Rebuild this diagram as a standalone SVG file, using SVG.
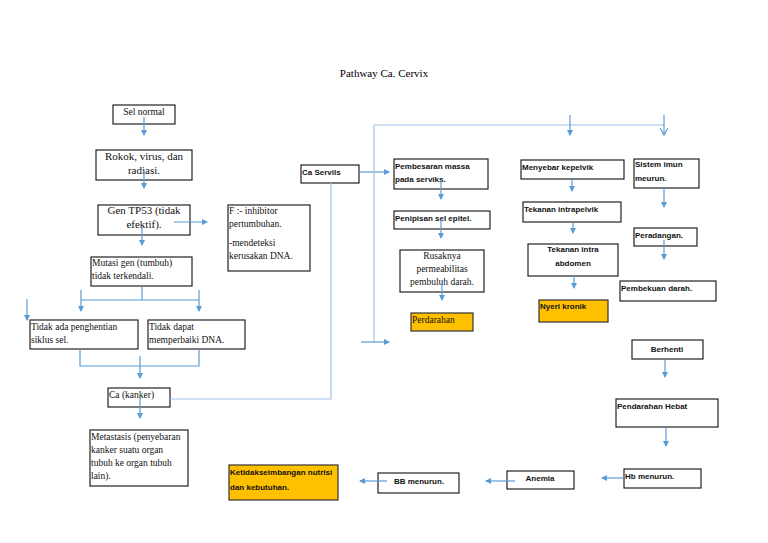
<svg xmlns="http://www.w3.org/2000/svg" width="768" height="543" viewBox="0 0 768 543">
<style>
.b{fill:#fff;stroke:#222;stroke-width:1.2}
.o{fill:#ffc000;stroke:#333;stroke-width:1.2}
.c{stroke:#5b9bd5;stroke-width:1.2;fill:none}
.lc{stroke:#9dc3e6;stroke-width:1.2;fill:none}
.s{font-family:"Liberation Serif",serif;font-size:9.5px;fill:#111}
.sb{font-family:"Liberation Serif",serif;font-size:11px;fill:#111}
.n{font-family:"Liberation Sans",sans-serif;font-size:8px;font-weight:bold;fill:#111}
</style>
<defs>
<marker id="a" markerWidth="6" markerHeight="6" refX="5" refY="3" orient="auto" markerUnits="userSpaceOnUse"><path d="M0,0 L6,3 L0,6z" fill="#5b9bd5"/></marker>
<marker id="v" markerWidth="8" markerHeight="8" refX="7" refY="4" orient="auto" markerUnits="userSpaceOnUse"><path d="M0,0 L7,4 L0,8" fill="none" stroke="#5b9bd5" stroke-width="1.2"/></marker>
</defs>
<rect width="768" height="543" fill="#fff"/>
<text x="384" y="77" text-anchor="middle" style="font-family:'Liberation Serif',serif;font-size:11px">Pathway Ca. Cervix</text>
<g id="n1"><rect class="b" x="113" y="105" width="62" height="19"/><text class="s" x="144" y="115" text-anchor="middle">Sel normal</text></g>
<g id="n2"><rect class="b" x="96" y="150" width="96" height="30"/><text class="sb" x="144" y="160" text-anchor="middle">Rokok, virus, dan</text><text class="sb" x="144" y="174" text-anchor="middle">radiasi.</text></g>
<g id="n3"><rect class="b" x="98" y="205" width="92" height="30"/><text class="sb" x="144" y="214" text-anchor="middle">Gen TP53 (tidak</text><text class="sb" x="144" y="228" text-anchor="middle">efektif).</text></g>
<g id="n4"><rect class="b" x="228" y="205" width="82" height="66"/><text class="s" x="229" y="214">F :- inhibitor</text><text class="s" x="229" y="227">pertumbuhan.</text><text class="s" x="229" y="246">-mendeteksi</text><text class="s" x="229" y="259">kerusakan DNA.</text></g>
<g id="n5"><rect class="b" x="91" y="257" width="101" height="29"/><text class="s" x="92" y="266">Mutasi gen (tumbuh)</text><text class="s" x="92" y="279">tidak terkendali.</text></g>
<g id="n6"><rect class="b" x="30" y="320" width="108" height="29"/><text class="s" x="31" y="330">Tidak ada penghentian</text><text class="s" x="31" y="343">siklus sel.</text></g>
<g id="n7"><rect class="b" x="148" y="320" width="97" height="29"/><text class="s" x="149" y="330">Tidak dapat</text><text class="s" x="149" y="343">memperbaiki DNA.</text></g>
<g id="n8"><rect class="b" x="108" y="388" width="62" height="19"/><text class="s" x="109" y="398">Ca (kanker)</text></g>
<g id="n9"><rect class="b" x="90" y="430" width="98" height="56"/><text class="s" x="91" y="440">Metastasis (penyebaran</text><text class="s" x="91" y="453">kanker suatu organ</text><text class="s" x="91" y="466">tubuh ke organ tubuh</text><text class="s" x="91" y="479">lain).</text></g>
<g id="n10"><rect class="b" x="301" y="165" width="58" height="18"/><text class="n" x="302" y="175">Ca Servils</text></g>
<g id="n11"><rect class="b" x="394" y="159" width="94" height="30"/><text class="n" x="395" y="169">Pembesaran massa</text><text class="n" x="395" y="182">pada serviks.</text></g>
<g id="n12"><rect class="b" x="394" y="211" width="96" height="18"/><text class="n" x="395" y="221">Penipisan sel epitel.</text></g>
<g id="n13"><rect class="b" x="400" y="250" width="84" height="42"/><text class="s" x="442" y="259" text-anchor="middle">Rusaknya</text><text class="s" x="442" y="272" text-anchor="middle">permeabilitas</text><text class="s" x="442" y="285" text-anchor="middle">pembuluh darah.</text></g>
<g id="n14"><rect class="o" x="411" y="313" width="62" height="18"/><text class="s" x="412" y="323">Perdarahan</text></g>
<g id="n15"><rect class="b" x="521" y="160" width="103" height="19"/><text class="n" x="522" y="170">Menyebar kepelvik</text></g>
<g id="n16"><rect class="b" x="523" y="202" width="98" height="20"/><text class="n" x="524" y="212">Tekanan intrapelvik</text></g>
<g id="n17"><rect class="b" x="528" y="244" width="90" height="32"/><text class="n" x="573" y="252" text-anchor="middle">Tekanan intra</text><text class="n" x="573" y="266" text-anchor="middle">abdomen</text></g>
<g id="n18"><rect class="o" x="539" y="300" width="69" height="22"/><text class="n" x="540" y="309">Nyeri kronik</text></g>
<g id="n19"><rect class="b" x="634" y="159" width="65" height="29"/><text class="n" x="635" y="167">Sistem imun</text><text class="n" x="635" y="181">meurun.</text></g>
<g id="n20"><rect class="b" x="634" y="228" width="63" height="18"/><text class="n" x="635" y="238">Peradangan.</text></g>
<g id="n21"><rect class="b" x="620" y="281" width="96" height="20"/><text class="n" x="621" y="291">Pembekuan darah.</text></g>
<g id="n22"><rect class="b" x="632" y="340" width="71" height="19"/><text class="n" x="667" y="352" text-anchor="middle">Berhenti</text></g>
<g id="n23"><rect class="b" x="616" y="399" width="102" height="28"/><text class="n" x="617" y="409">Pendarahan Hebat</text></g>
<g id="n24"><rect class="b" x="624" y="469" width="77" height="19"/><text class="n" x="625" y="479">Hb menurun.</text></g>
<g id="n25"><rect class="b" x="507" y="471" width="67" height="18"/><text class="n" x="540" y="481" text-anchor="middle">Anemia</text></g>
<g id="n26"><rect class="b" x="378" y="473" width="81" height="20"/><text class="n" x="419" y="484" text-anchor="middle">BB menurun.</text></g>
<g id="n27"><rect class="o" x="229" y="465" width="109" height="35"/><text class="n" x="230" y="475">Ketidakseimbangan nutrisi</text><text class="n" x="230" y="490">dan kebutuhan.</text></g>
<g id="connectors">
<path class="c" d="M144 117V135" marker-end="url(#a)"/>
<path class="c" d="M144 170V188" marker-end="url(#a)"/>
<path class="c" d="M142 227V245" marker-end="url(#a)"/>
<path class="c" d="M174 222H207" marker-end="url(#a)"/>
<path class="c" d="M142 286V300M81 300H199"/>
<path class="c" d="M81 290V311" marker-end="url(#a)"/>
<path class="c" d="M199 290V311" marker-end="url(#a)"/>
<path class="c" d="M27 299V320" marker-end="url(#a)"/>
<path class="c" d="M80 349V366H199V349"/>
<path class="c" d="M140 356V378" marker-end="url(#a)"/>
<path class="c" d="M140 397V418" marker-end="url(#a)"/>
<path class="lc" d="M170 399H331V183"/>
<path class="c" d="M359 172H389" marker-end="url(#a)"/>
<path class="lc" d="M374 342V125H664"/>
<path class="c" d="M361 342H389" marker-end="url(#a)"/>
<path class="c" d="M570 115V135" marker-end="url(#a)"/>
<path class="c" d="M664 115V135" marker-end="url(#v)"/>
<path class="c" d="M441 180V199" marker-end="url(#a)"/>
<path class="c" d="M441 220V238" marker-end="url(#a)"/>
<path class="c" d="M442 282V300" marker-end="url(#a)"/>
<path class="c" d="M572 179V191" marker-end="url(#a)"/>
<path class="c" d="M573 222V233" marker-end="url(#a)"/>
<path class="c" d="M574 276V288" marker-end="url(#a)"/>
<path class="c" d="M664 188V207" marker-end="url(#a)"/>
<path class="c" d="M664 240V259" marker-end="url(#a)"/>
<path class="c" d="M665 359V377" marker-end="url(#a)"/>
<path class="c" d="M666 427V446" marker-end="url(#a)"/>
<path class="c" d="M624 478H602" marker-end="url(#a)"/>
<path class="c" d="M515 481H486" marker-end="url(#a)"/>
<path class="c" d="M387 481H360" marker-end="url(#a)"/>
</g>
</svg>
